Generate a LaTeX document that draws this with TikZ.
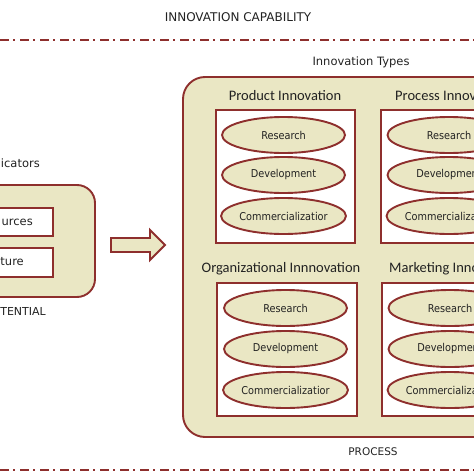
\documentclass[tikz,border=0pt]{standalone}
\usepackage{fontspec}
\setmainfont{DejaVu Sans}
\newfontfamily\headfont{Carlito}
\newfontfamily\ovalfont{DejaVu Sans Condensed}
\usetikzlibrary{shapes.geometric}
\definecolor{darkred}{HTML}{8E2F2D}
\definecolor{khaki}{HTML}{EAE7C4}
\definecolor{inktext}{HTML}{222222}
\begin{document}
\begin{tikzpicture}[x=1pt, y=-1pt,
    oval/.style={ellipse, draw=darkred, line width=1.9pt, fill=khaki, minimum width=123pt, minimum height=36pt, inner sep=0pt, font=\ovalfont\fontsize{10.8}{12}\selectfont, text=inktext},
    group/.style={draw=darkred, line width=1.9pt, fill=white},
    head/.style={font=\headfont\fontsize{14.5}{16}\selectfont, text=inktext},
    plain/.style={font=\fontsize{11.5}{13}\selectfont, text=inktext, inner sep=0pt},
    dashdot line/.style={darkred, line width=2pt, dash pattern=on 9pt off 4pt on 2pt off 5pt}]
    \useasboundingbox (0,0) rectangle (474,474);
    \clip (0,0) rectangle (474,474);

    \node[plain, font=\fontsize{12}{14}\selectfont] (capab) at (238,17){INNOVATION CAPABILITY};
    \draw[dashdot line] (0,40) -- (474,40);
    \draw[dashdot line] (0,470) -- (474,470);

    % left part
    \node[plain, anchor=east] (indic) at (40,163){icators};
    \fill[khaki, draw=darkred, line width=1.9pt, rounded corners=18pt] (-30,185) rectangle (95,297);
    \draw[group] (-10,208) rectangle (53,236);
    \draw[group] (-10,248) rectangle (53,277);
    \node[plain, anchor=east] (resrc) at (33,222){urces};
    \node[plain, anchor=east] (cultr) at (24,262){ture};
    \node[plain, anchor=east, font=\fontsize{11}{13}\selectfont] (potnt) at (46,311){TENTIAL};

    \draw[darkred, line width=1.9pt, fill=khaki] (111,238) -- (150,238) -- (150,230) -- (165,245)
        -- (150,260) -- (150,252) -- (111,252) -- cycle;

    % innovation types
    \node[plain] (types) at (361,62){Innovation Types};
    \fill[khaki, draw=darkred, line width=1.9pt, rounded corners=22pt] (183,77) rectangle (510,437);

    \node[head] (prod) at (285,96){Product Innovation};
    \node[head, anchor=west, inner sep=0pt] (proc) at (395,96){Process Innovation};
    \node[head] (orga) at (281,269){Organizational Innnovation};
    \node[head, anchor=west, inner sep=0pt] (mark) at (389,269){Marketing Innovation};

    \draw[group] (216,110) rectangle (355,243);
    \draw[group] (381,110) rectangle (520,243);
    \draw[group] (217,283) rectangle (357,416);
    \draw[group] (382,283) rectangle (520,416);

    \node[oval] (prodres) at (283.5,135){Research};
    \node[oval] (proddev) at (283.5,175){Development};
    \node[oval] (prodcom) at (283.5,216){Commercializatior};

    \node[oval] (procres) at (449,135){Research};
    \node[oval] (procdev) at (449,175){Development};
    \node[oval] (proccom) at (449,216){Commercializatior};

    \node[oval] (orgares) at (285.5,308){Research};
    \node[oval] (orgadev) at (285.5,349){Development};
    \node[oval] (orgacom) at (285.5,390){Commercializatior};

    \node[oval] (markres) at (450,308){Research};
    \node[oval] (markdev) at (450,349){Development};
    \node[oval] (markcom) at (450,390){Commercializatior};

    \node[plain, font=\fontsize{10.5}{12}\selectfont] (procs) at (373,452){PROCESS};
\end{tikzpicture}
\end{document}
